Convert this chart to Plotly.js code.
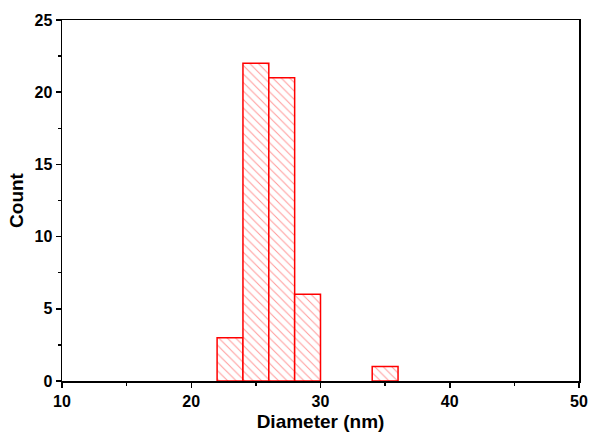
<!DOCTYPE html>
<html>
<head>
<meta charset="utf-8">
<script src="https://cdn.plot.ly/plotly-3.0.1.min.js"></script>
<style>html,body{margin:0;padding:0;background:#fff;}#chart{width:600px;height:447px;}</style>
</head>
<body>
<div id="chart"></div>
<script>
const binCenters = [23, 25, 27, 29, 35];
const counts = [3, 22, 21, 6, 1];
const binWidth = 2;

const trace = {
  type: 'bar',
  x: binCenters,
  y: counts,
  width: binCenters.map(() => binWidth),
  marker: {
    color: 'rgba(255,255,255,0)',
    line: {color: '#ff0000', width: 1.5},
    pattern: {shape: '\\', fgcolor: '#ff3333', bgcolor: '#ffffff', size: 6, solidity: 0.17, fillmode: 'overlay'}
  },
  hoverinfo: 'skip'
};

const fam = 'Liberation Sans, Arial, sans-serif';
const tickFont = {family: fam, size: 16, color: '#000'};
const axisCommon = {
  showgrid: false, zeroline: false,
  showline: true, linecolor: '#000', linewidth: 1.5, mirror: true,
  ticks: 'outside', ticklen: 5, tickwidth: 1.5, tickcolor: '#000',
  tickfont: tickFont
};

const layout = {
  width: 600, height: 447,
  margin: {l: 62, r: 21, t: 20, b: 66},
  paper_bgcolor: '#fff', plot_bgcolor: '#fff',
  showlegend: false,
  bargap: 0,
  xaxis: Object.assign({}, axisCommon, {
    range: [10, 50], dtick: 10, tick0: 10,
    minor: {dtick: 5, ticks: 'outside', ticklen: 3, tickwidth: 1.5, tickcolor: '#000', showgrid: false},
    title: {text: '<b>Diameter (nm)</b>', font: {family: fam, size: 19, color: '#000'}, standoff: 6},
    tickprefix: '<b>', ticksuffix: '</b>'
  }),
  yaxis: Object.assign({}, axisCommon, {
    range: [0, 25], dtick: 5, tick0: 0,
    minor: {dtick: 2.5, ticks: 'outside', ticklen: 3, tickwidth: 1.5, tickcolor: '#000', showgrid: false},
    title: {text: '<b>Count</b>', font: {family: fam, size: 19, color: '#000'}, standoff: 6},
    tickprefix: '<b>', ticksuffix: '</b>'
  })
};

Plotly.newPlot('chart', [trace], layout, {displayModeBar: false, staticPlot: true});
</script>
</body>
</html>
